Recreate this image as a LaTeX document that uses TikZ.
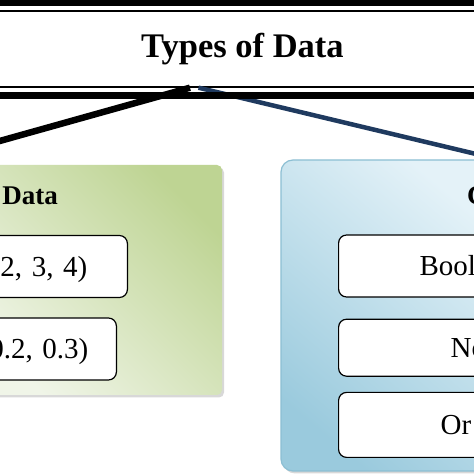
\documentclass[tikz,border=0pt]{standalone}
\usepackage{fontspec}
\setmainfont{Liberation Serif}
\usepackage{tikz}
\usetikzlibrary{arrows.meta, positioning, calc, shadows}
\definecolor{tdNavy}{HTML}{1F3A5F}
\definecolor{tdGreenDk}{HTML}{BED493}
\definecolor{tdGreenLt}{HTML}{F0F5E8}
\definecolor{tdBlueLt}{HTML}{E4F2F8}
\definecolor{tdBlueDk}{HTML}{9ACADD}
\definecolor{tdBlueEdge}{HTML}{8CBFD3}

\begin{document}
\begin{tikzpicture}[
  x=1pt, y=1pt,
  title/.style={draw, line width=2pt, fill=white, minimum width=560pt,
                minimum height=76pt, font=\fontsize{34.5}{40}\selectfont\bfseries},
  rule/.style={line width=7.6pt, black},
  numgroup/.style={top color=tdGreenDk, bottom color=tdGreenLt, shading angle=-45,
                   rounded corners=5pt, minimum width=250pt, minimum height=230pt,
                   drop shadow={shadow xshift=2pt, shadow yshift=-2.5pt, opacity=0.3}},
  catgroup/.style={draw=tdBlueEdge, line width=1.2pt, top color=tdBlueLt,
                   bottom color=tdBlueDk, shading angle=-40, rounded corners=12pt,
                   minimum width=215pt, minimum height=311pt,
                   drop shadow={shadow xshift=2pt, shadow yshift=-2.5pt, opacity=0.3}},
  head/.style={font=\fontsize{27}{32}\selectfont\bfseries, inner sep=0pt},
  item/.style={draw, line width=1.2pt, fill=white, rounded corners=8pt,
               text width=160pt, minimum height=62pt, text height=20pt, text depth=0pt,
               font=\fontsize{29}{34}\selectfont},
  numitem/.style={item, anchor=east, align=right, inner xsep=#1},
  catitem/.style={item, anchor=west, align=left, inner xsep=#1},
  numlink/.style={line width=6.5pt, black},
  catlink/.style={line width=4.5pt, tdNavy}
]
  \useasboundingbox (0,0) rectangle (474,474);
  \fill[white] (0,0) rectangle (474,474);
  \clip (0,0) rectangle (474,474);

  % Groups
  \node[numgroup] (numbox) at (97,194) {};
  \node[catgroup] (catbox) at (388.5,158.5) {};
  \coordinate (numtop) at ($(numbox.north west)+(-57,0)$);
  \coordinate (cattop) at ($(catbox.north east)+(2,0)$);
  \node[head, anchor=base east] (numhead) at (58,269) {Data};
  \node[head, anchor=base west] (cathead) at (467,269) {C};

  % Numeric items
  \node[numitem=40pt] (n1) at (128,207.5) {2, 3, 4)};
  \node[numitem=28pt] (n2) at (117,125) {0.2, 0.3)};

  % Categorical items
  \node[catitem=81pt] (c1) at (338,208) {Bool};
  \node[catitem=112pt, minimum height=57pt, below=21pt of c1.south west, anchor=north west] (c2) {No};
  \node[catitem=102pt, minimum height=65pt, below=15pt of c2.south west, anchor=north west] (c3) {Or};

  % Title
  \node[title] (title) at (242.5,425.3) {Types of Data};
  \draw[numlink] ([xshift=-52.5pt]title.south) -- (numtop);
  \draw[catlink] ([xshift=-44pt]title.south) -- (cattop);
  \draw[rule] ([yshift=7.8pt]title.north west) -- ([yshift=7.8pt]title.north east);
  \draw[rule] ([yshift=-7.8pt]title.south west) -- ([yshift=-7.8pt]title.south east);
\end{tikzpicture}
\end{document}
